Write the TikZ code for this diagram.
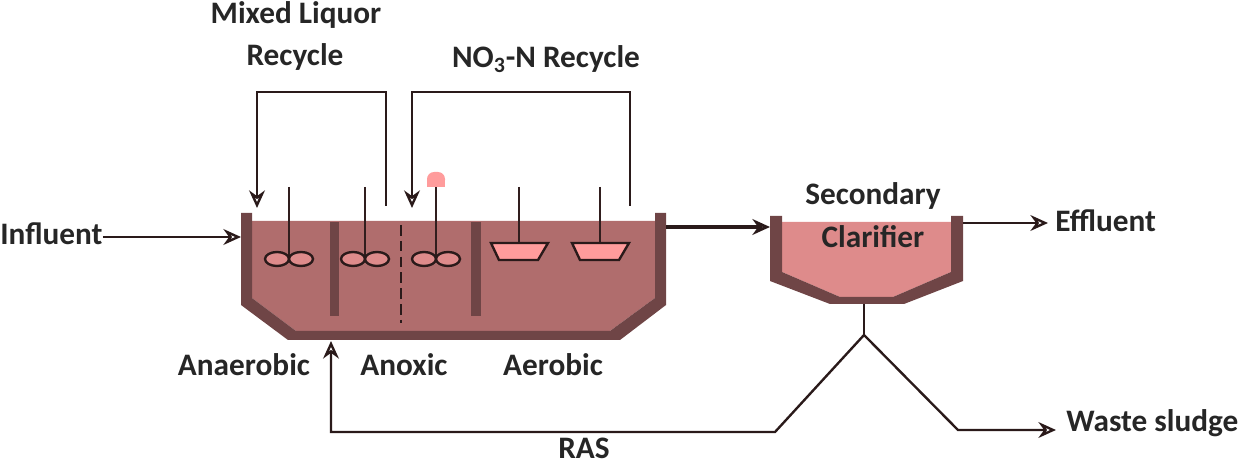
\documentclass[tikz,border=0pt]{standalone}
\usepackage{fontspec}
\setsansfont{Carlito}
\usetikzlibrary{arrows.meta}
\definecolor{wallc}{HTML}{6F4546}
\definecolor{liquidc}{HTML}{B06D6D}
\definecolor{clarc}{HTML}{DE8B8B}
\definecolor{pinkc}{HTML}{FF9C9C}
\definecolor{linec}{HTML}{2A1A1A}
\tikzset{
  flowline/.style={draw=linec, line width=1.35pt, -{Stealth[open,length=10pt,width=9pt]}},
  plainline/.style={draw=linec, line width=1.35pt},
  shaftline/.style={draw=linec!90!wallc, line width=1.2pt},
  tanklabel/.style={font=\sffamily\bfseries\fontsize{17.8}{20}\selectfont, text=black!85, inner sep=0pt, anchor=base},
}
\begin{document}
\begin{tikzpicture}[x=0.02cm, y=-0.02cm]
        \useasboundingbox (0,0) rectangle (1240,465);
        % main tank
        \fill[liquidc] (252,221) -- (655,221) -- (655,298) -- (610,331) -- (296,331) -- (252,298) -- cycle;
        \fill[wallc] (241,213) -- (252,213) -- (252,298) -- (296,331) -- (610,331) -- (655,298) -- (655,213) -- (666,213) -- (666,305) -- (620,340) -- (288,340) -- (241,305) -- cycle;
        \fill[wallc] (330,222) rectangle (339,316);
        \fill[wallc] (471,222) rectangle (481,316);
        \draw[plainline, line width=1.5pt, dash pattern=on 6pt off 3pt] (401,225) -- (401,323);
        % mixers
        \foreach \x in {289,365,436} {
            \draw[shaftline] (\x,187) -- (\x,259);
            \draw[plainline, fill=clarc] (\x-12,259) ellipse (12 and 7);
            \draw[plainline, fill=clarc] (\x+12,259) ellipse (12 and 7);
        }
        \fill[pinkc, rounded corners=4pt] (427,187) -- (427,172) -- (445,172) -- (445,187) [sharp corners] -- cycle;
        \fill[pinkc] (427,180) rectangle (445,187);
        % aerators
        \foreach \x in {519,600} {
            \draw[shaftline] (\x,187) -- (\x,243);
            \draw[plainline, fill=pinkc] (\x-28,243) -- (\x+29,243) -- (\x+19,260) -- (\x-20,260) -- cycle;
        }
        % clarifier
        \fill[clarc] (782,222) -- (951,222) -- (951,272) -- (893,297) -- (840,297) -- (782,272) -- cycle;
        \fill[wallc] (770,216) -- (782,216) -- (782,272) -- (840,297) -- (893,297) -- (951,272) -- (951,216) -- (963,216) -- (963,281) -- (904,304) -- (830,304) -- (770,281) -- cycle;
        % labels
        \node[tanklabel] (mixed) at (296,24) {Mixed Liquor};
        \node[tanklabel] (recycle) at (295,66) {Recycle};
        \node[tanklabel] (nitrate) at (546,68) {NO\textsubscript{3}-N Recycle};
        \node[tanklabel, anchor=base west] (influent) at (0,245) {Influent};
        \node[tanklabel] (secondary) at (873,205) {Secondary};
        \node[tanklabel] (clarifier) at (873,248) {Clarifier};
        \node[tanklabel, anchor=base west] (effluent) at (1055,232) {Effluent};
        \node[tanklabel, anchor=base west] (waste) at (1066,432) {Waste sludge};
        \node[tanklabel] (ras) at (584,459) {RAS};
        \node[tanklabel] (anaerobic) at (244,376) {Anaerobic};
        \node[tanklabel] (anoxic) at (404,376) {Anoxic};
        \node[tanklabel] (aerobic) at (553,376) {Aerobic};
        % connector points
        \coordinate (tankin) at (241,237);
        \coordinate (tankout) at (666,227);
        \coordinate (clarin) at (770,227);
        \coordinate (clarout) at (963,223);
        \coordinate (effend) at (1048,223);
        \coordinate (stemtop) at (864,304);
        \coordinate (split) at (864,335);
        \coordinate (rasbend) at (775,432);
        \coordinate (rascorner) at (331,432);
        \coordinate (rasend) at (331,341);
        \coordinate (wastebend) at (958,430);
        \coordinate (wasteend) at (1056,430);
        \coordinate (mlrstart) at (386,206);
        \coordinate (mlrend) at (257,208);
        \coordinate (nitstart) at (630,206);
        \coordinate (nitend) at (412,208);
        \coordinate (recycletop) at (0,92);
        % flows
        \draw[flowline] (influent.east |- tankin) -- (tankin);
        \draw[flowline, line width=1.8pt] (tankout) -- (clarin);
        \draw[flowline] (clarout) -- (effend);
        \draw[plainline] (stemtop) -- (split);
        \draw[flowline] (split) -- (rasbend) -- (rascorner) -- (rasend);
        \draw[flowline] (split) -- (wastebend) -- (wasteend);
        \draw[flowline] (mlrstart) -- (mlrstart |- recycletop) -- (mlrend |- recycletop) -- (mlrend);
        \draw[flowline] (nitstart) -- (nitstart |- recycletop) -- (nitend |- recycletop) -- (nitend);
    \end{tikzpicture}
\end{document}
